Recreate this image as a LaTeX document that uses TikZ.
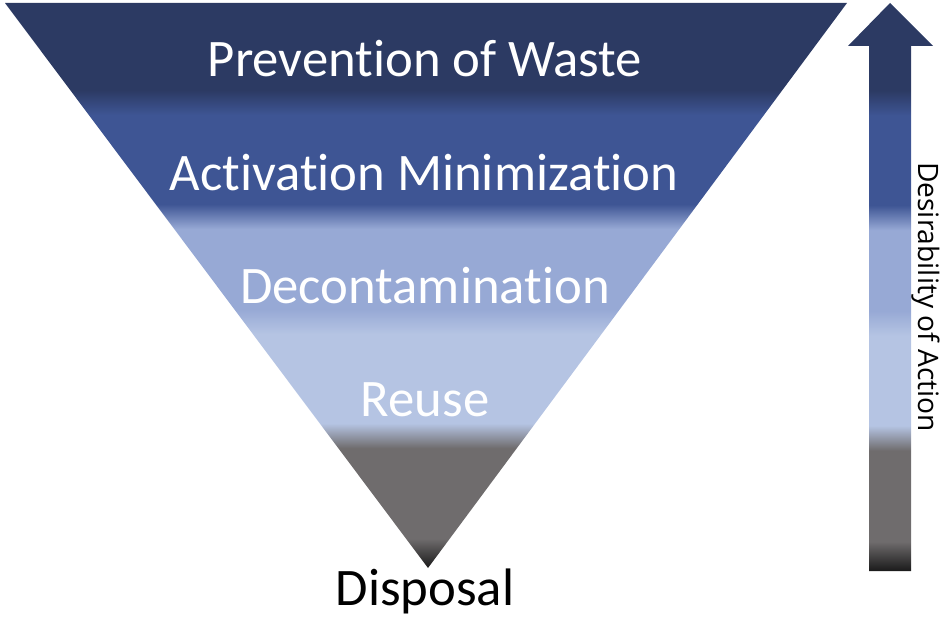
\documentclass[tikz,border=0pt]{standalone}
\usepackage{fontspec}
\setmainfont{Carlito}[RawFeature={-liga;-clig;-dlig;-calt}]
\newfontfamily\axisfont{Open Sans}

\definecolor{wastenavy}{HTML}{2C3A63}
\definecolor{wasteblue}{HTML}{3E5594}
\definecolor{wastelight}{HTML}{97A9D5}
\definecolor{wastepale}{HTML}{B5C4E3}
\definecolor{wastegray}{HTML}{6F6C6D}
\definecolor{wastedark}{HTML}{1A1A1A}

% bands, bottom to top (25bp = bottom, 75bp = top of the path)
\pgfdeclareverticalshading{desirability}{100bp}{%
  color(0bp)=(wastedark); color(25bp)=(wastedark);
  color(27.6bp)=(wastegray); color(35.6bp)=(wastegray);
  color(37.8bp)=(wastepale); color(45.7bp)=(wastepale);
  color(47.9bp)=(wastelight); color(55bp)=(wastelight);
  color(57.2bp)=(wasteblue); color(65.1bp)=(wasteblue);
  color(67.3bp)=(wastenavy); color(100bp)=(wastenavy)}

\tikzset{
  level/.style={anchor=base, text=white, font=\fontsize{45}{50}\selectfont},
  bottomlevel/.style={anchor=base, text=black, font=\fontsize{45}{50}\selectfont},
  axislabel/.style={anchor=base, rotate=-90, text=black, font=\axisfont\fontsize{24}{28}\selectfont}
}

\begin{document}
\begin{tikzpicture}[x=0.03cm,y=-0.03cm]
\useasboundingbox (0,0) rectangle (947,619);

% Triangle
\shade[shading=desirability]
(5,3)
--
(847,3)
--
(428,568)
-- cycle;

% Arrow
\shade[shading=desirability]
(869,571)
--
(869,46)
--
(848,46)
--
(890,3)
--
(933,46)
--
(911,46)
--
(911,571)
-- cycle;

% Levels
\node[level] (prevention) at (425,77)
{Prevention of Waste};

\node[level] (activation) at (424,190)
{Activation Minimization};

\node[level] (decontamination) at (425,303)
{Decontamination};

\node[level] (reuse) at (425,416)
{Reuse};

\node[bottomlevel] (disposal) at (425,605)
{Disposal};

% Axis
\node[axislabel] (desirability) at (918,297)
{Desirability of Action};

\end{tikzpicture}
\end{document}
